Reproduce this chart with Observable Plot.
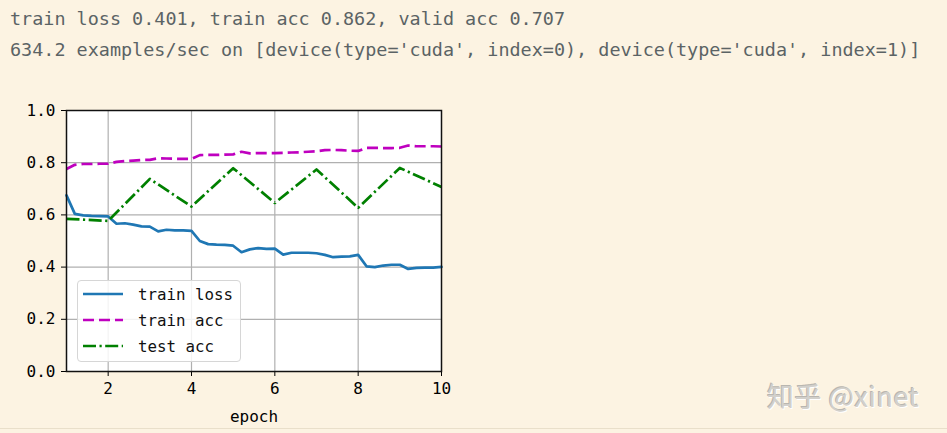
<!DOCTYPE html>
<html>
<head>
<meta charset="utf-8">
<script src="https://cdn.jsdelivr.net/npm/d3@7"></script>
<script src="https://cdn.jsdelivr.net/npm/@observablehq/plot@0.6"></script>
<style>
  html, body { margin: 0; padding: 0; }
  body { width: 947px; height: 433px; overflow: hidden; background: #fcf3e2; position: relative; }
  .log { position: absolute; left: 10px; font-family: "DejaVu Sans Mono", monospace; font-size: 18.45px; line-height: 18.4px; color: #5b6365; white-space: pre; }
  #chart { position: absolute; left: 0; top: 0; }
  #legend { position: absolute; left: 77px; top: 280px; width: 162px; height: 80px; border: 1px solid #d6d6d6; border-radius: 4px; background: rgba(255,255,255,0.85); font-family: "DejaVu Sans Mono", monospace; font-size: 15.8px; color: #111; }
  .item { position: absolute; left: 5px; height: 20px; display: flex; align-items: center; }
  .item svg { width: 41px; height: 20px; }
  .item span { margin-left: 14px; }
  #wm { position: absolute; left: 767px; top: 376px; font-family: "Noto Sans CJK SC", sans-serif; font-size: 27px; color: #d2d0cb; text-shadow: -1px -1px 0 #b9b6b0, 1px 1px 0 #ffffff; letter-spacing: 0.5px; }
  #sep { position: absolute; left: 0; top: 428px; width: 947px; height: 1px; background: #e9dfca; }
</style>
</head>
<body>
<div class="log" style="top:10px">train loss 0.401, train acc 0.862, valid acc 0.707</div>
<div class="log" style="top:41px">634.2 examples/sec on [device(type='cuda', index=0), device(type='cuda', index=1)]</div>
<div id="chart"></div>
<div id="legend"></div>
<div id="wm">知乎 @xinet</div>
<div id="sep"></div>
<script>
// ---- data ----
const batchEpochs = [1.0,1.2,1.4,1.6,1.8,2.0,2.2,2.4,2.6,2.8,3.0,3.2,3.4,3.6,3.8,4.0,4.2,4.4,4.6,4.8,5.0,5.2,5.4,5.6,5.8,6.0,6.2,6.4,6.6,6.8,7.0,7.2,7.4,7.6,7.8,8.0,8.2,8.4,8.6,8.8,9.0,9.2,9.4,9.6,9.8,10.0];
const trainLoss = [0.675,0.604,0.598,0.596,0.595,0.594,0.566,0.568,0.563,0.556,0.555,0.537,0.543,0.541,0.541,0.539,0.500,0.488,0.486,0.485,0.482,0.457,0.468,0.473,0.470,0.471,0.448,0.455,0.455,0.455,0.453,0.447,0.438,0.440,0.441,0.447,0.403,0.400,0.406,0.409,0.409,0.393,0.397,0.398,0.398,0.401];
const trainAcc = [0.776,0.792,0.795,0.795,0.796,0.796,0.803,0.806,0.808,0.810,0.811,0.817,0.816,0.815,0.815,0.815,0.829,0.830,0.830,0.831,0.832,0.842,0.836,0.837,0.837,0.837,0.838,0.839,0.840,0.842,0.844,0.848,0.849,0.848,0.846,0.845,0.857,0.857,0.856,0.856,0.857,0.866,0.863,0.863,0.863,0.862];
const epochs = [1,2,3,4,5,6,7,8,9,10];
const testAcc = [0.585,0.577,0.738,0.632,0.779,0.646,0.774,0.627,0.780,0.707];
const xTicks = [2,4,6,8,10];
const yTicks = [0,0.2,0.4,0.6,0.8,1.0];
const seriesNames = ["train loss","train acc","test acc"];
const seriesColors = ["#1f77b4","#bf00bf","#008000"];
const seriesDash = [null,"11,5","13,3.5,2.2,3.5"];

// ---- tables ----
const lossRows = batchEpochs.map((e,i)=>({epoch:e, value:trainLoss[i]}));
const accRows = batchEpochs.map((e,i)=>({epoch:e, value:trainAcc[i]}));
const testRows = epochs.map((e,i)=>({epoch:e, value:testAcc[i]}));

const lw = 2.7;
const chart = Plot.plot({
  width: 947,
  height: 433,
  marginLeft: 66,
  marginRight: 506,
  marginTop: 110,
  marginBottom: 62,
  style: {background: "transparent", fontFamily: "DejaVu Sans Mono, monospace", fontSize: "16px", color: "#000", overflow: "visible"},
  x: {domain: [1,10], ticks: xTicks, tickSize: 5, tickPadding: 6, tickFormat: d => String(d), label: "epoch", labelAnchor: "center", labelArrow: "none", labelOffset: 50},
  y: {domain: [0,1], ticks: yTicks, tickSize: 5, tickPadding: 6, tickFormat: ".1f", label: null},
  marks: [
    Plot.frame({fill: "white", stroke: null}),
    Plot.gridX(xTicks.slice(0,4), {stroke: "#b0b0b0", strokeOpacity: 1, strokeWidth: 1.2}),
    Plot.gridY(yTicks.slice(1,5), {stroke: "#b0b0b0", strokeOpacity: 1, strokeWidth: 1.2}),
    Plot.line(lossRows, {x: "epoch", y: "value", stroke: seriesColors[0], strokeWidth: lw}),
    Plot.line(accRows, {x: "epoch", y: "value", stroke: seriesColors[1], strokeWidth: lw, strokeDasharray: seriesDash[1], strokeLinecap: "butt"}),
    Plot.line(testRows, {x: "epoch", y: "value", stroke: seriesColors[2], strokeWidth: lw, strokeDasharray: seriesDash[2], strokeLinecap: "butt"}),
    Plot.frame({stroke: "#111", strokeWidth: 1.5})
  ]
});
document.getElementById("chart").appendChild(chart);

// ---- legend ----
const leg = document.getElementById("legend");
const tops = [3, 29, 55];
seriesNames.forEach((name, i) => {
  const div = document.createElement("div");
  div.className = "item";
  div.style.top = tops[i] + "px";
  const dash = seriesDash[i] ? ` stroke-dasharray="${seriesDash[i]}"` : "";
  div.innerHTML = `<svg viewBox="0 0 41 20"><line x1="0" x2="40" y1="10" y2="10" stroke="${seriesColors[i]}" stroke-width="${lw}"${dash}/></svg><span>${name}</span>`;
  leg.appendChild(div);
});
</script>
</body>
</html>
